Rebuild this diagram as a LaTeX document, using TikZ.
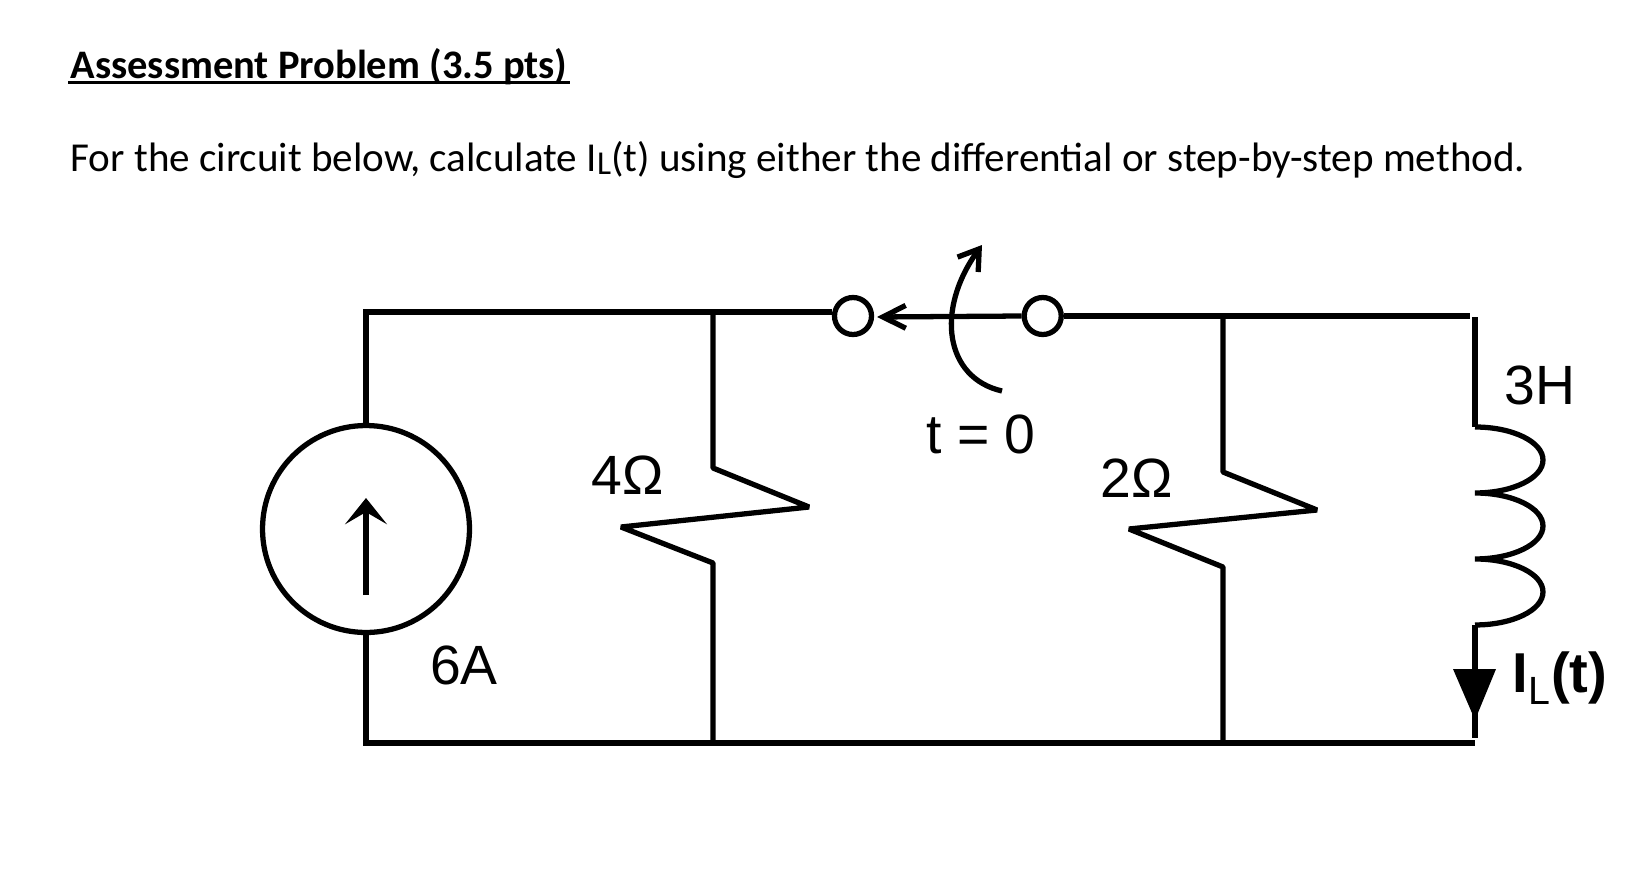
\documentclass[tikz,border=0pt]{standalone}
\usepackage{fontspec}
\setmainfont{Liberation Sans}
\newfontfamily\docfont{Carlito}
\usetikzlibrary{positioning}
\usetikzlibrary{arrows.meta}

\begin{document}
\begin{tikzpicture}[x=0.02cm, y=-0.02cm, line width=3pt, font=\fontsize{31.5}{38}\selectfont]
    \tikzstyle{wire}=[draw=black,line cap=butt,line join=miter]
    \tikzstyle{zigzag}=[draw=black,line cap=butt,line join=bevel]
    \tikzstyle{terminal}=[draw=black,circle,fill=none,minimum size=0.74cm,inner sep=0pt]
    \tikzstyle{source}=[draw=black,circle,fill=none,minimum size=4.14cm,inner sep=0pt]
    \tikzstyle{doctext}=[anchor=base west,inner sep=0pt,font=\docfont\fontsize{23.4}{30}\selectfont]
    \useasboundingbox (0, 0) rectangle (1644, 876);

    \node[doctext, font=\docfont\bfseries\fontsize{23.05}{30}\selectfont] (title) at (68, 78) {Assessment Problem (3.5 pts)};
    \node[doctext] (task) at (68, 171) {For the circuit below, calculate I\raisebox{-1.8pt}{\fontsize{19}{20}\selectfont L}(t) using either the differential or step-by-step method.};
    \coordinate (titleline) at ([yshift=-2.4pt]title.base west);
    \draw[line width=1.5pt] (titleline) -- (titleline -| title.east);

    \node[source] (src) at (366, 529) {};
    \node[terminal] (swl) at (853, 316) {};
    \node[terminal, right=2.95cm of swl] (swr) {};

    \coordinate (tl) at (366, 312);
    \coordinate (bl) at (366, 743);
    \coordinate (tr) at (1470, 316);
    \coordinate (br) at (1475, 743);
    \coordinate (ltop) at (1475, 317);
    \coordinate (l1) at (1475, 427);
    \coordinate (l2) at (1475, 625);
    \coordinate (ltip) at (1475, 720);
    \coordinate (lend) at (1475, 738);

    \coordinate (ra) at (713, 312);
    \coordinate (ra1) at (713, 468);
    \coordinate (ra2) at (809, 507);
    \coordinate (ra3) at (621, 527);
    \coordinate (ra4) at (713, 563);
    \coordinate (rae) at (713, 743);

    \coordinate (rb) at (1223, 316);
    \coordinate (rb1) at (1223, 472);
    \coordinate (rb2) at (1317, 510);
    \coordinate (rb3) at (1129, 529);
    \coordinate (rb4) at (1223, 567);
    \coordinate (rbe) at (1223, 743);

    \coordinate (swtip) at (877, 317);
    \coordinate (armfrom) at (1002, 391);
    \coordinate (armto) at (982, 245);
    \coordinate (srcfrom) at (366, 595);
    \coordinate (srcto) at (366, 498);

    % outer loop
    \draw[wire] (src.north) -- (tl) -- (tl -| swl.west);
    \draw[wire] (src.south) -- (bl) -- (br);
    \draw[wire] (swr.east) -- (tr);
    \draw[wire] (ltop) -- (l1);
    \draw[wire] (l2) -- (lend);

    % resistors
    \draw[zigzag] (ra) -- (ra1) -- (ra2) -- (ra3) -- (ra4) -- (rae);
    \draw[zigzag] (rb) -- (rb1) -- (rb2) -- (rb3) -- (rb4) -- (rbe);

    % inductor
    \draw[wire] (l1) arc[start angle=90, end angle=-90, x radius=1.36cm, y radius=0.66cm]
        arc[start angle=90, end angle=-90, x radius=1.36cm, y radius=0.66cm]
        arc[start angle=90, end angle=-90, x radius=1.36cm, y radius=0.66cm];
    \fill (ltip) -- (1453, 669) -- (1496, 669) -- cycle;

    % switch and arrows
    \draw[wire, -{Straight Barb[length=13pt, width=13pt]}] (swr.west) -- (swtip);
    \draw[wire, -{Straight Barb[length=11pt, width=14.5pt]}] (armfrom) .. controls (945, 378) and (935, 310) .. (armto);
    \draw[wire, -{Stealth[length=15pt, width=24pt, inset=7pt, line width=1pt]}] (srcfrom) -- (srcto);

    \node (t0) at (981, 434) {t = 0};
    \node (r4) at (628, 475) {4Ω};
    \node (r2) at (1137, 478) {2Ω};
    \node (isrc) at (464, 665) {6A};
    \node (ind) at (1540, 385) {3H};
    \node[anchor=base west, inner sep=0pt, font=\fontsize{32}{38}\selectfont] (il) at (1510, 692) {\bfseries I\textsubscript{\mdseries L}(t)};
\end{tikzpicture}
\end{document}
